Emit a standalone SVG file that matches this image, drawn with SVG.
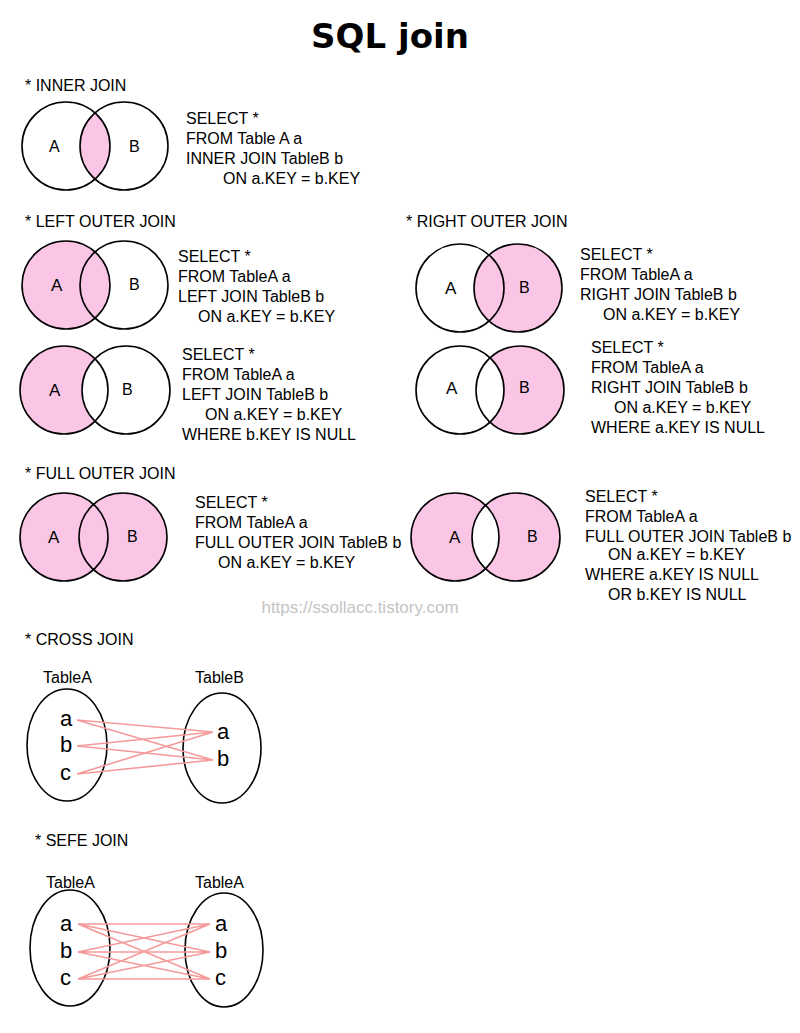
<svg xmlns="http://www.w3.org/2000/svg" width="800" height="1033" viewBox="0 0 800 1033">
<style>
text{font-family:"Liberation Sans",Arial,sans-serif;font-size:16px;fill:#000}
.l{font-size:17px}
.e{font-size:22px}
.c{fill:none;stroke:#000;stroke-width:1.6}
.p{fill:#fbc6e6}
.w{fill:#fff}
.ln{stroke:#f59a9a;stroke-width:1.6;fill:none}
</style>
<defs>
<clipPath id="ci1"><circle cx="66" cy="146" r="44"/></clipPath>
<clipPath id="cl2"><circle cx="64" cy="390" r="44"/></clipPath>
<clipPath id="cr2"><circle cx="520" cy="390" r="44"/></clipPath>
<clipPath id="cf2"><circle cx="455" cy="537" r="44"/></clipPath>
</defs>
<rect width="800" height="1033" fill="#fff"/>
<text x="390" y="48" text-anchor="middle" style="font-family:'DejaVu Sans',sans-serif;font-size:34px;font-weight:bold">SQL join</text>

<g id="inner">
<text x="25" y="91">* INNER JOIN</text>
<circle class="p" cx="124" cy="146" r="44" clip-path="url(#ci1)"/>
<circle class="c" cx="66" cy="146" r="44"/><circle class="c" cx="124" cy="146" r="44"/>
<text x="49" y="152">A</text><text x="129" y="152">B</text>
<text x="186" y="124">SELECT *</text><text x="186" y="144">FROM Table A a</text><text x="186" y="164">INNER JOIN TableB b</text><text x="223" y="184">ON a.KEY = b.KEY</text>
</g>

<g id="left1">
<text x="25" y="227">* LEFT OUTER JOIN</text>
<circle class="p" cx="66" cy="285" r="44"/>
<circle class="c" cx="66" cy="285" r="44"/><circle class="c" cx="124" cy="285" r="44"/>
<text class="l" x="51" y="291">A</text><text x="129" y="290">B</text>
<text x="178" y="262">SELECT *</text><text x="178" y="282">FROM TableA a</text><text x="178" y="302">LEFT JOIN TableB b</text><text x="198" y="322">ON a.KEY = b.KEY</text>
</g>

<g id="left2">
<circle class="p" cx="64" cy="390" r="44"/>
<circle class="w" cx="126" cy="390" r="44" clip-path="url(#cl2)"/>
<circle class="c" cx="64" cy="390" r="44"/><circle class="c" cx="126" cy="390" r="44"/>
<text class="l" x="49" y="396">A</text><text x="122" y="395">B</text>
<text x="182" y="360">SELECT *</text><text x="182" y="380">FROM TableA a</text><text x="182" y="400">LEFT JOIN TableB b</text><text x="205" y="420">ON a.KEY = b.KEY</text><text x="182" y="440">WHERE b.KEY IS NULL</text>
</g>

<g id="right1">
<text x="406" y="227">* RIGHT OUTER JOIN</text>
<circle class="p" cx="518" cy="288" r="44"/>
<circle class="c" cx="460" cy="288" r="44"/><circle class="c" cx="518" cy="288" r="44"/>
<text class="l" x="445" y="294">A</text><text x="519" y="293">B</text>
<text x="580" y="260">SELECT *</text><text x="580" y="280">FROM TableA a</text><text x="580" y="300">RIGHT JOIN TableB b</text><text x="603" y="320">ON a.KEY = b.KEY</text>
</g>

<g id="right2">
<circle class="p" cx="520" cy="390" r="44"/>
<circle class="w" cx="460" cy="390" r="44" clip-path="url(#cr2)"/>
<circle class="c" cx="460" cy="390" r="44"/><circle class="c" cx="520" cy="390" r="44"/>
<text class="l" x="446" y="394">A</text><text x="519" y="393">B</text>
<text x="591" y="353">SELECT *</text><text x="591" y="373">FROM TableA a</text><text x="591" y="393">RIGHT JOIN TableB b</text><text x="614" y="413">ON a.KEY = b.KEY</text><text x="591" y="433">WHERE a.KEY IS NULL</text>
</g>

<g id="full1">
<text x="25" y="479">* FULL OUTER JOIN</text>
<circle class="p" cx="64" cy="537" r="44"/><circle class="p" cx="123" cy="537" r="44"/>
<circle class="c" cx="64" cy="537" r="44"/><circle class="c" cx="123" cy="537" r="44"/>
<text class="l" x="48" y="543">A</text><text x="127" y="542">B</text>
<text x="195" y="508">SELECT *</text><text x="195" y="528">FROM TableA a</text><text x="195" y="548">FULL OUTER JOIN TableB b</text><text x="218" y="568">ON a.KEY = b.KEY</text>
</g>

<g id="full2">
<circle class="p" cx="455" cy="537" r="44"/><circle class="p" cx="516" cy="537" r="44"/>
<circle class="w" cx="516" cy="537" r="44" clip-path="url(#cf2)"/>
<circle class="c" cx="455" cy="537" r="44"/><circle class="c" cx="516" cy="537" r="44"/>
<text class="l" x="449" y="543">A</text><text x="527" y="542">B</text>
<text x="585" y="502">SELECT *</text><text x="585" y="522">FROM TableA a</text><text x="585" y="542">FULL OUTER JOIN TableB b</text><text x="608" y="560">ON a.KEY = b.KEY</text><text x="585" y="580">WHERE a.KEY IS NULL</text><text x="608" y="600">OR b.KEY IS NULL</text>
</g>

<text x="360" y="613" text-anchor="middle" style="fill:#c4c4c4;font-size:17px">https://ssollacc.tistory.com</text>

<g id="cross">
<text x="25" y="645">* CROSS JOIN</text>
<text x="43" y="683">TableA</text><text x="195" y="683">TableB</text>
<ellipse class="c" cx="67" cy="745" rx="40" ry="56"/>
<ellipse class="c" cx="222" cy="748" rx="39" ry="55"/>
<text class="e" x="60" y="726">a</text><text class="e" x="60" y="752">b</text><text class="e" x="60" y="780">c</text>
<text class="e" x="217" y="739">a</text><text class="e" x="217" y="766">b</text>
</g>

<g id="self">
<text x="35" y="846">* SEFE JOIN</text>
<text x="46" y="888">TableA</text><text x="195" y="888">TableA</text>
<ellipse class="c" cx="70" cy="948" rx="40" ry="58"/>
<ellipse class="c" cx="224" cy="950" rx="39" ry="57"/>
<text class="e" x="60" y="931">a</text><text class="e" x="60" y="958">b</text><text class="e" x="60" y="985">c</text>
<text class="e" x="215" y="931">a</text><text class="e" x="215" y="958">b</text><text class="e" x="215" y="985">c</text>
</g>

<g id="connectors">
<path class="ln" d="M77 720L213 732M77 720L213 760M77 746L213 732M77 746L213 760M77 774L213 732M77 774L213 760"/>
<path class="ln" d="M78 924L210 924M78 924L210 952M78 924L210 979M78 952L210 924M78 952L210 952M78 952L210 979M78 979L210 924M78 979L210 952M78 979L210 979"/>
</g>
</svg>
